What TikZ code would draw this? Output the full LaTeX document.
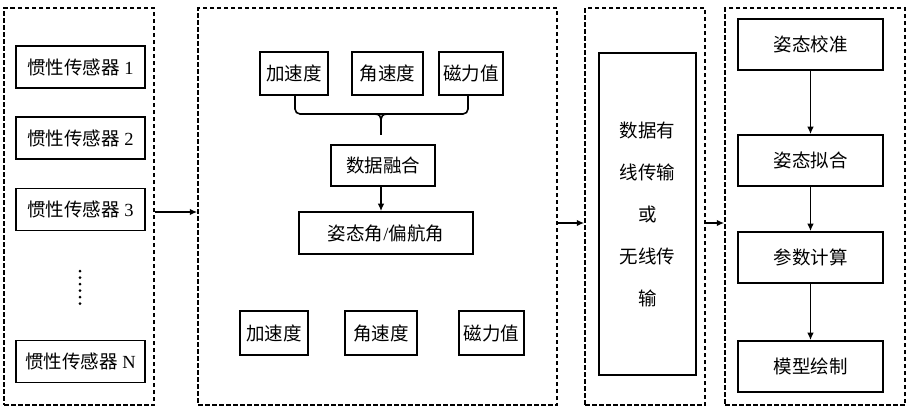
\documentclass[tikz,border=0pt]{standalone}
\usepackage{fontspec}
\setmainfont{Liberation Serif}
\newfontfamily\cjk{Noto Sans CJK SC}
\usetikzlibrary{arrows.meta}
\begin{document}
\begin{tikzpicture}[x=1pt,y=-1pt,
  box/.style={draw,line width=1.6pt,inner sep=0pt,align=center,font=\fontsize{18.5}{22}\selectfont},
  thickbox/.style={box,line width=2.2pt},
  panel/.style={draw,line width=1.5pt,dash pattern=on 4.5pt off 2.5pt,inner sep=0pt},
  arr/.style={-{Latex[length=7.5pt,width=6.5pt]},line width=1.5pt}]
\useasboundingbox[fill=white] (0,0) rectangle (910,410);

% panels
\node[panel,minimum width=150pt,minimum height=397pt] (p1) at (79,206.5) {};
\node[panel,minimum width=359pt,minimum height=397pt] (p2) at (377.5,206.5) {};
\node[panel,minimum width=120pt,minimum height=397pt] (p3) at (645,206.5) {};
\node[panel,minimum width=180pt,minimum height=397pt] (p4) at (815,206.5) {};

% sensors
\node[box,minimum width=129pt,minimum height=42pt] (s1) at (80.5,67) {{\cjk 惯性传感器} 1};
\node[box,minimum width=129pt,minimum height=42pt] (s2) at (80.5,138) {{\cjk 惯性传感器} 2};
\node[box,minimum width=129pt,minimum height=42pt] (s3) at (80.5,209.5) {{\cjk 惯性传感器} 3};
\node[box,minimum width=129pt,minimum height=42pt] (sn) at (80.5,361.5) {{\cjk 惯性传感器} N};
\foreach \y in {271,277.5,284,290.5,297,303.5}
  \fill (80,\y) circle (1.5pt);

% panel 2
\node[box,minimum width=68pt,minimum height=43pt] (a1) at (294,73.5) {\cjk 加速度};
\node[box,minimum width=71pt,minimum height=43pt] (b1) at (387.5,73.5) {\cjk 角速度};
\node[box,minimum width=64pt,minimum height=43pt] (c1) at (471,73.5) {\cjk 磁力值};
\node[box,minimum width=104pt,minimum height=41pt] (fuse) at (383,165.5) {\cjk 数据融合};
\node[box,minimum width=174pt,minimum height=42pt] (att) at (386,233) {{\cjk 姿态角}/{\cjk 偏航角}};
\node[thickbox,minimum width=68pt,minimum height=44pt] (a2) at (274,333) {\cjk 加速度};
\node[thickbox,minimum width=72pt,minimum height=44pt] (b2) at (381,333) {\cjk 角速度};
\node[thickbox,minimum width=65pt,minimum height=44pt] (c2) at (491.5,333) {\cjk 磁力值};

% brace
\coordinate (bl) at (295,114);
\coordinate (br) at (468,114);
\coordinate (cusp) at (381,135);
\draw[line width=1.6pt,rounded corners=5pt] (a1.south -| bl) -- (bl) -- (br) -- (c1.south -| br);
\draw[line width=1.6pt] (374,114) .. controls (380,114) and (381,116) .. (381,123) .. controls (381,116) and (382,114) .. (388,114);
\draw[line width=1.6pt] (381,121) -- (cusp);

\draw[arr] (fuse.south -| cusp) -- (att.north -| cusp);

% panel 3
\node[box,minimum width=97pt,minimum height=322pt,font=\fontsize{18.5}{42}\selectfont\cjk] (tr) at (647.5,214) {数据有\\线传输\\或\\无线传\\输};

% panel 4
\node[box,minimum width=145pt,minimum height=51pt] (k1) at (810.5,44.5) {\cjk 姿态校准};
\node[box,minimum width=145pt,minimum height=51pt] (k2) at (810.5,160.5) {\cjk 姿态拟合};
\node[box,minimum width=145pt,minimum height=51pt] (k3) at (810.5,257.5) {\cjk 参数计算};
\node[box,minimum width=145pt,minimum height=51pt] (k4) at (810.5,366.5) {\cjk 模型绘制};
\draw[arr] (k1.south) -- (k2.north);
\draw[arr] (k2.south) -- (k3.north);
\draw[arr] (k3.south) -- (k4.north);

% panel arrows
\coordinate (y1) at (0,212);
\coordinate (y2) at (0,223);
\draw[arr] (p1.east |- y1) -- (p2.west |- y1);
\draw[arr] (p2.east |- y2) -- (p3.west |- y2);
\draw[arr] (p3.east |- y2) -- (p4.west |- y2);
\end{tikzpicture}
\end{document}
